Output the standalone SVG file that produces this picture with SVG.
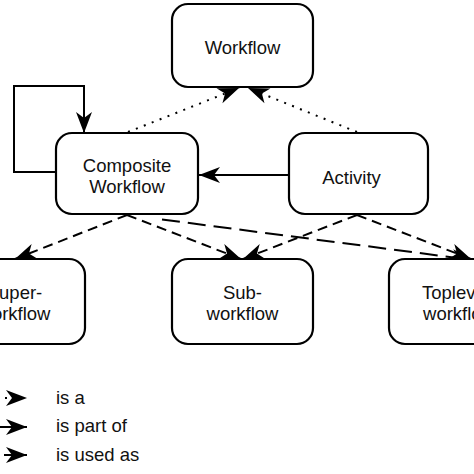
<svg xmlns="http://www.w3.org/2000/svg" width="474" height="474" viewBox="0 0 474 474">
<style>
.box{fill:#fff;stroke:#000;stroke-width:2.2}
.lbl{font-family:"Liberation Sans",Arial,Helvetica,sans-serif;font-size:18.5px;fill:#111;text-anchor:middle}
.leg{font-family:"Liberation Sans",Arial,Helvetica,sans-serif;font-size:18.5px;fill:#111}
.c{fill:none;stroke:#000;stroke-width:2}
.dot{stroke-dasharray:2 6.5}
.dash{stroke-dasharray:10 6}
.ldash{stroke-dasharray:18 8}
</style>
<defs>
<marker id="ah" viewBox="-23 -9 24 18" refX="0" refY="0" markerWidth="24" markerHeight="18" markerUnits="userSpaceOnUse" orient="auto" overflow="visible">
<path d="M0,0 L-21,-8 L-15,0 L-21,8 Z" fill="#000"/>
</marker>
</defs>
<rect width="474" height="474" fill="#fff"/>
<g id="connectors">
<path class="c" d="M56,172 H14 V86 H84 V133" marker-end="url(#ah)"/>
<path class="c" d="M289,175 H199" marker-end="url(#ah)"/>
<path class="c dot" d="M128,132 L239,88" marker-end="url(#ah)"/>
<path class="c dot" d="M357,132 L248,88" marker-end="url(#ah)"/>
<path class="c dash" d="M127,215 L15,259" marker-end="url(#ah)"/>
<path class="c dash" d="M127,215 L241,259" marker-end="url(#ah)"/>
<path class="c ldash" d="M162,219.5 L473,260" marker-end="url(#ah)"/>
<path class="c dash" d="M357,215 L243,259" marker-end="url(#ah)"/>
<path class="c dash" d="M357,215 L471,259" marker-end="url(#ah)"/>
</g>
<g id="workflow">
<rect class="box" x="172" y="4" width="141" height="83" rx="16"/>
<text class="lbl" x="242.5" y="54">Workflow</text>
</g>
<g id="composite">
<rect class="box" x="56" y="133" width="142" height="81" rx="16"/>
<text class="lbl" x="127" y="172">Composite</text>
<text class="lbl" x="127" y="193">Workflow</text>
</g>
<g id="activity">
<rect class="box" x="289" y="133" width="139" height="81" rx="16"/>
<text class="lbl" x="351.5" y="184">Activity</text>
</g>
<g id="superworkflow">
<rect class="box" x="-56" y="259" width="141" height="85" rx="16"/>
<text class="lbl" x="14.5" y="299">Super-</text>
<text class="lbl" x="14.5" y="320">workflow</text>
</g>
<g id="subworkflow">
<rect class="box" x="172" y="259" width="141" height="85" rx="16"/>
<text class="lbl" x="242.5" y="299">Sub-</text>
<text class="lbl" x="242.5" y="320">workflow</text>
</g>
<g id="toplevelworkflow">
<rect class="box" x="389" y="259" width="141" height="85" rx="16"/>
<text class="lbl" x="459" y="299">Toplevel-</text>
<text class="lbl" x="459" y="320">workflow</text>
</g>
<g id="legend">
<path class="c dot" d="M-12,398 H27" marker-end="url(#ah)"/>
<text class="leg" x="56" y="404">is a</text>
<path class="c" d="M-12,427 H27" marker-end="url(#ah)"/>
<text class="leg" x="56" y="432">is part of</text>
<path class="c dash" d="M-12,455 H27" marker-end="url(#ah)"/>
<text class="leg" x="56" y="461">is used as</text>
</g>
</svg>
